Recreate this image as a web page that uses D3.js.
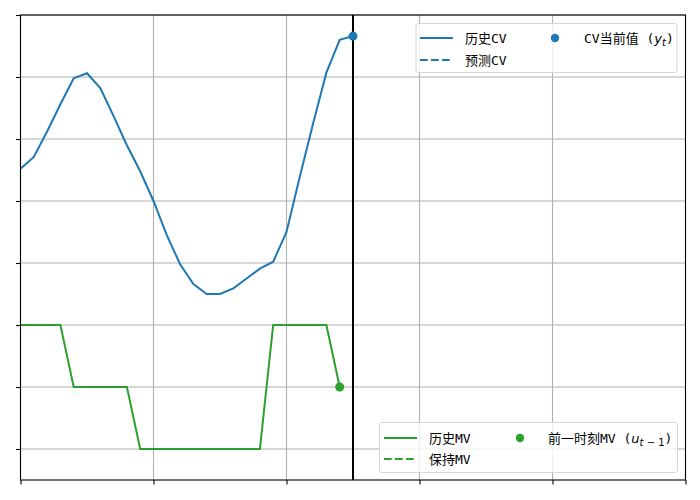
<!DOCTYPE html>
<meta charset="utf-8">
<style>
  body { margin: 0; background: #fff; }
  svg text { font-family: "DejaVu Sans Mono", "Noto Sans CJK SC", monospace; font-size: 13px; }
  .math { font-family: "DejaVu Sans", sans-serif; font-style: italic; }
  .mathrm { font-family: "DejaVu Sans", sans-serif; font-style: normal; }
</style>
<svg width="700" height="500"></svg>
<script src="https://cdn.jsdelivr.net/npm/d3@7"></script>
<script>
// time steps (history up to current step t=25)
var tNow = 25;
var cvHist = [4.52, 4.71, 5.12, 5.56, 5.98, 6.06, 5.82, 5.37, 4.90, 4.48,
              4.00, 3.45, 2.98, 2.66, 2.50, 2.50, 2.59, 2.75, 2.91, 3.02,
              3.50, 4.39, 5.25, 6.07, 6.60, 6.66];
var mvHist = [2, 2, 2, 2, 1, 1, 1, 1, 1, 0,
              0, 0, 0, 0, 0, 0, 0, 0, 0, 2,
              2, 2, 2, 2, 1];
var cvPred = [];   // forecast not drawn in this frame
var mvHold = [];
var xTicks = [0, 10, 20, 30, 40, 50];
var yTicks = [0, 1, 2, 3, 4, 5, 6, 7];

var svg = d3.select("svg"),
    margin = {top: 15, left: 20.5, right: 14.5, bottom: 20},
    width = +svg.attr("width") - margin.left - margin.right,
    height = +svg.attr("height") - margin.top - margin.bottom;

var x = d3.scaleLinear().domain([0, 50]).range([0, width]);
var y = d3.scaleLinear().domain([-0.5, 7]).range([height, 0]);

var g = svg.append("g")
    .attr("transform", "translate(" + margin.left + "," + margin.top + ")");

// grid
g.append("g").selectAll("line").data(xTicks).enter().append("line")
    .attr("x1", d => x(d)).attr("x2", d => x(d))
    .attr("y1", 0).attr("y2", height)
    .attr("stroke", "#b0b0b0").attr("stroke-width", 1.1);
g.append("g").selectAll("line").data(yTicks).enter().append("line")
    .attr("x1", 0).attr("x2", width)
    .attr("y1", d => y(d)).attr("y2", d => y(d))
    .attr("stroke", "#b0b0b0").attr("stroke-width", 1.1);

var line = d3.line().x(d => x(d[0])).y(d => y(d[1]));

var cvData = cvHist.map((v, i) => [i, v]);
var mvData = mvHist.map((v, i) => [i, v]);

g.append("path").datum(cvData).attr("d", line)
    .attr("fill", "none").attr("stroke", "#1f77b4").attr("stroke-width", 2);
g.append("path").datum(mvData).attr("d", line)
    .attr("fill", "none").attr("stroke", "#2ca02c").attr("stroke-width", 2);
g.append("path").datum(cvPred).attr("d", line)
    .attr("fill", "none").attr("stroke", "#1f77b4").attr("stroke-width", 2).attr("stroke-dasharray", "7.7,3.3");
g.append("path").datum(mvHold).attr("d", line)
    .attr("fill", "none").attr("stroke", "#2ca02c").attr("stroke-width", 2).attr("stroke-dasharray", "7.7,3.3");

// current time marker
g.append("line")
    .attr("x1", x(tNow)).attr("x2", x(tNow))
    .attr("y1", 0).attr("y2", height)
    .attr("stroke", "#000").attr("stroke-width", 2);

g.append("circle").attr("cx", x(tNow)).attr("cy", y(cvHist[tNow])).attr("r", 4.5).attr("fill", "#1f77b4");
g.append("circle").attr("cx", x(tNow - 1)).attr("cy", y(mvHist[tNow - 1])).attr("r", 4.5).attr("fill", "#2ca02c");

// axes (ticks only, no labels)
g.append("g").attr("transform", "translate(0," + height + ")")
    .call(d3.axisBottom(x).tickValues(xTicks).tickFormat("").tickSize(4.5).tickSizeOuter(0));
g.append("g")
    .call(d3.axisLeft(y).tickValues(yTicks).tickFormat("").tickSize(4.5).tickSizeOuter(0));
svg.selectAll(".domain").remove();
svg.selectAll(".tick line").attr("stroke", "#000").attr("stroke-width", 1.1);
g.append("rect").attr("width", width).attr("height", height)
    .attr("fill", "none").attr("stroke", "#000").attr("stroke-width", 1.1);

// legends
function legend(box, items) {
  var lg = svg.append("g");
  lg.append("rect").attr("x", box.x).attr("y", box.y).attr("width", box.w).attr("height", box.h)
      .attr("rx", 2.5).attr("fill", "rgba(255,255,255,0.8)").attr("stroke", "#d6d6d6").attr("stroke-width", 1);
  items.forEach(function(it) {
    if (it.kind === "dot") {
      lg.append("circle").attr("cx", it.x + 16).attr("cy", it.y).attr("r", 4.2).attr("fill", it.color);
    } else {
      lg.append("line").attr("x1", it.x).attr("x2", it.x + 33).attr("y1", it.y).attr("y2", it.y)
          .attr("stroke", it.color).attr("stroke-width", 2)
          .attr("stroke-dasharray", it.kind === "dash" ? "7.7,3.3" : null);
    }
    var t = lg.append("text").attr("x", it.tx).attr("y", it.y + 5).attr("fill", "#000")
        .attr("xml:space", "preserve").style("white-space", "pre");
    t.append("tspan").text(it.label);
    if (it.math) {
      t.append("tspan").text("(");
      t.append("tspan").attr("class", "math").text(it.math[0]);
      t.append("tspan").attr("class", "math").attr("font-size", "10px").attr("dy", 3).text(it.math[1]);
      t.append("tspan").attr("class", "mathrm").attr("font-size", "10px").text(it.math[2]);
      t.append("tspan").attr("dy", -3).text(")");
    }
  });
}

legend({x: 416, y: 23.5, w: 261, h: 49}, [
  {kind: "line", color: "#1f77b4", x: 420, y: 38, tx: 465, label: "历史CV"},
  {kind: "dash", color: "#1f77b4", x: 420, y: 60, tx: 465, label: "预测CV"},
  {kind: "dot", color: "#1f77b4", x: 539, y: 38, tx: 584, label: "CV当前值 ", math: ["y", "t", ""]}
]);
legend({x: 379.5, y: 422.5, w: 298, h: 50}, [
  {kind: "line", color: "#2ca02c", x: 384, y: 438, tx: 429, label: "历史MV"},
  {kind: "dash", color: "#2ca02c", x: 384, y: 459, tx: 429, label: "保持MV"},
  {kind: "dot", color: "#2ca02c", x: 504, y: 438, tx: 548, label: "前一时刻MV ", math: ["u", "t", " − 1"]}
]);
</script>
